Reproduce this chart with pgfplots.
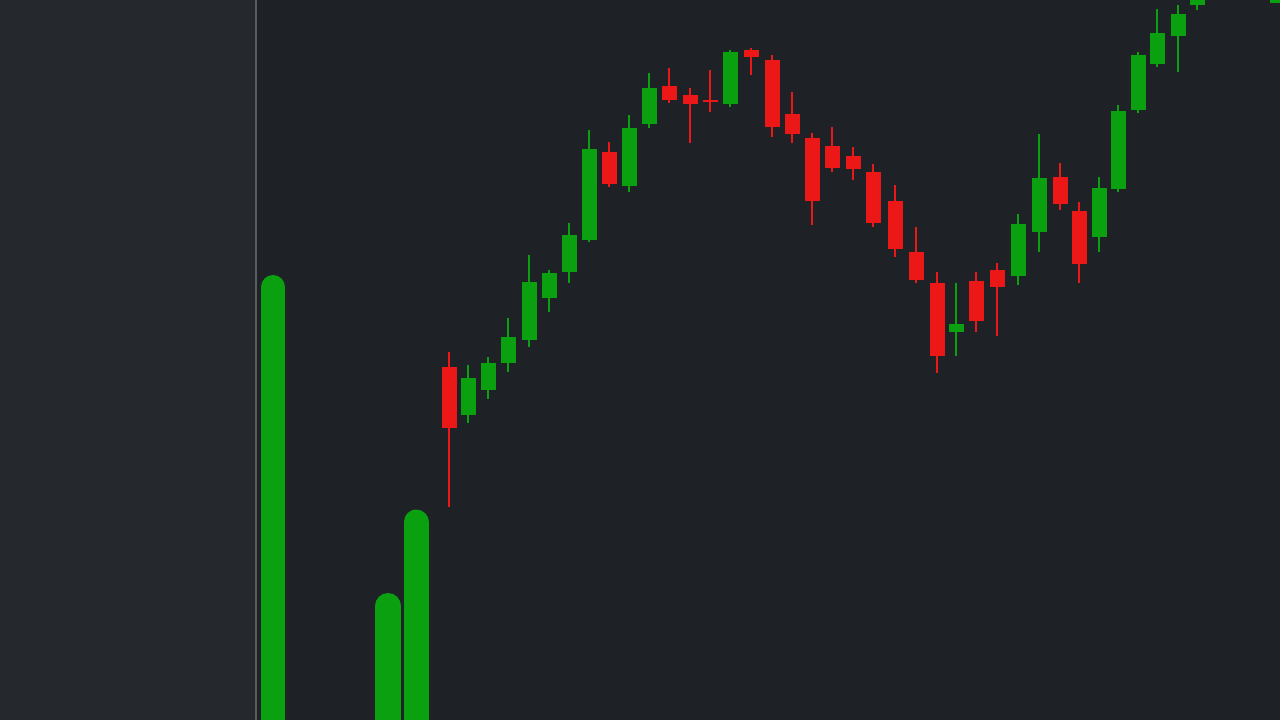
\documentclass[border=0pt]{standalone}
\usepackage{pgfplots}
\pgfplotsset{compat=1.18}
\usepackage{pgfplotstable}
\definecolor{bgmain}{RGB}{30,33,38}
\definecolor{bgleft}{RGB}{37,40,44}
\definecolor{sepline}{RGB}{88,92,98}
\definecolor{cgreen}{RGB}{10,160,16}
\definecolor{cred}{RGB}{236,24,24}
% columns: x, body top, body bottom, wick top, wick bottom (screen y, 0 = top)
\pgfplotstableread{
x bt bb wt wb
468 378 415 365 423
488 363 390 357 399
508 337 363 318 372
529 282 340 255 347
549 273 298 270 312
569 235 272 223 283
589 149 240 130 242
629 128 186 115 192
649 88 124 73 128
730 52 104 50 107
956 324 332 283 356
1018 224 276 214 285
1039 178 232 134 252
1099 188 237 177 252
1118 111 189 105 192
1138 55 110 52 113
1157 33 64 9 67
1178 14 36 5 72
1197 -8 5 -15 10
1277 -20 3 -25 3
}\greencandles
\pgfplotstableread{
x bt bb wt wb
449 367 428 352 507
609 152 184 142 187
669 86 100 68 103
690 95 104 88 143
710 100.3 102 70 112
751 50 57 48 75
772 60 127 55 137
792 114 134 92 143
812 138 201 133 225
832 146 168 127 172
853 156 169 147 180
873 172 223 164 227
895 201 249 185 257
916 252 280 227 283
937 283 356 272 373
976 281 321 272 332
997 270 287 263 336
1060 177 204 163 210
1079 211 264 202 283
}\redcandles
\begin{document}
\begin{tikzpicture}
\begin{axis}[
  width=12.8cm, height=7.2cm, scale only axis,
  xmin=0, xmax=1280, ymin=0, ymax=720, y dir=reverse,
  axis lines=none, ticks=none, clip=true,
]
\coordinate (sw) at (rel axis cs:0,0);
\coordinate (ne) at (rel axis cs:1,1);
% backgrounds
\addplot[fill=bgmain, draw=none] coordinates {(0,0) (1280,0) (1280,720) (0,720)} -- cycle;
\addplot[fill=bgleft, draw=none] coordinates {(0,0) (256,0) (256,720) (0,720)} -- cycle;
\addplot[sepline, line width=0.12mm] coordinates {(256,0) (256,720)};
% volume-like bars
\addplot[cgreen, line width=2.4mm, line cap=round] coordinates {(273,287) (273,760)};
\addplot[cgreen, line width=2.6mm, line cap=round] coordinates {(388,606) (388,760)};
\addplot[cgreen, line width=2.5mm, line cap=round] coordinates {(416,522) (416,760)};
% wicks
\addplot[draw=none, mark=none, error bars/.cd, y dir=both, y explicit, error mark=none,
  error bar style={draw=cgreen, line width=0.22mm}]
  table[x=x, y expr={(\thisrow{wt}+\thisrow{wb})/2}, y error expr={(\thisrow{wb}-\thisrow{wt})/2}] {\greencandles};
\addplot[draw=none, mark=none, error bars/.cd, y dir=both, y explicit, error mark=none,
  error bar style={draw=cred, line width=0.22mm}]
  table[x=x, y expr={(\thisrow{wt}+\thisrow{wb})/2}, y error expr={(\thisrow{wb}-\thisrow{wt})/2}] {\redcandles};
% bodies
\addplot[draw=none, mark=none, error bars/.cd, y dir=both, y explicit, error mark=none,
  error bar style={draw=cgreen, line width=1.5mm}]
  table[x=x, y expr={(\thisrow{bt}+\thisrow{bb})/2}, y error expr={(\thisrow{bb}-\thisrow{bt})/2}] {\greencandles};
\addplot[draw=none, mark=none, error bars/.cd, y dir=both, y explicit, error mark=none,
  error bar style={draw=cred, line width=1.5mm}]
  table[x=x, y expr={(\thisrow{bt}+\thisrow{bb})/2}, y error expr={(\thisrow{bb}-\thisrow{bt})/2}] {\redcandles};
\end{axis}
\pgfresetboundingbox
\path (sw) rectangle (ne);
\end{tikzpicture}
\end{document}
